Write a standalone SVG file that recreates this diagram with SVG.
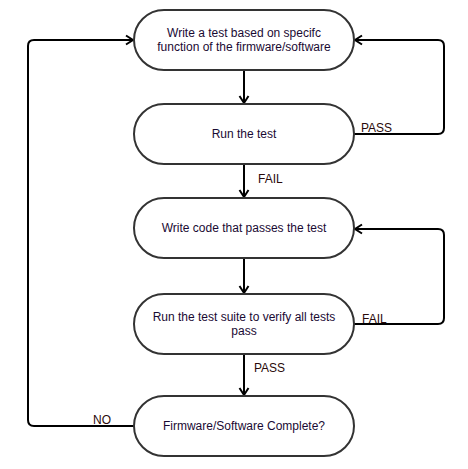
<svg xmlns="http://www.w3.org/2000/svg" width="468" height="469" viewBox="0 0 468 469">
<defs>
<style>
.node rect{fill:#fff;stroke:#333;stroke-width:2}
.node text{font-family:"Liberation Sans",Arial,sans-serif;font-size:12px;fill:#1a0a33;text-anchor:middle}
.edge{fill:none;stroke:#000;stroke-width:2;marker-end:url(#arr)}
.lbl{font-family:"Liberation Sans",Arial,sans-serif;font-size:12px;fill:#2a0a0a}
</style>
<marker id="arr" markerUnits="userSpaceOnUse" markerWidth="12" markerHeight="12" refX="9" refY="6" orient="auto">
<path d="M2,1.5 L9,6 L2,10.5" fill="none" stroke="#000" stroke-width="2"/>
</marker>
</defs>
<rect width="468" height="469" fill="#fff"/>
<g id="connectors">
<path class="edge" d="M244,70 L244,103"/>
<path class="edge" d="M244,164 L244,197"/>
<path class="edge" d="M244,258 L244,293"/>
<path class="edge" d="M244,354 L244,395"/>
<path class="edge" d="M354,134 L438,134 Q444,134 444,128 L444,46 Q444,40 438,40 L355,40"/>
<path class="edge" d="M354,324 L438,324 Q444,324 444,318 L444,235 Q444,229 438,229 L355,229"/>
<path class="edge" d="M134,426 L34,426 Q28,426 28,420 L28,46 Q28,40 34,40 L133,40"/>
<text class="lbl" x="361" y="132">PASS</text>
<text class="lbl" x="258" y="183">FAIL</text>
<text class="lbl" x="362" y="323">FAIL</text>
<text class="lbl" x="254" y="372">PASS</text>
<text class="lbl" x="93" y="424">NO</text>
</g>
<g id="n1" class="node"><rect x="134" y="10" width="220" height="60" rx="30" ry="30"/><text x="244" y="37">Write a test based on specifc</text><text x="244" y="51">function of the firmware/software</text></g>
<g id="n2" class="node"><rect x="134" y="104" width="220" height="60" rx="30" ry="30"/><text x="244" y="138">Run the test</text></g>
<g id="n3" class="node"><rect x="134" y="198" width="220" height="60" rx="30" ry="30"/><text x="244" y="232">Write code that passes the test</text></g>
<g id="n4" class="node"><rect x="134" y="294" width="220" height="60" rx="30" ry="30"/><text x="244" y="321">Run the test suite to verify all tests</text><text x="244" y="335">pass</text></g>
<g id="n5" class="node"><rect x="134" y="396" width="220" height="60" rx="30" ry="30"/><text x="244" y="430">Firmware/Software Complete?</text></g>
</svg>
